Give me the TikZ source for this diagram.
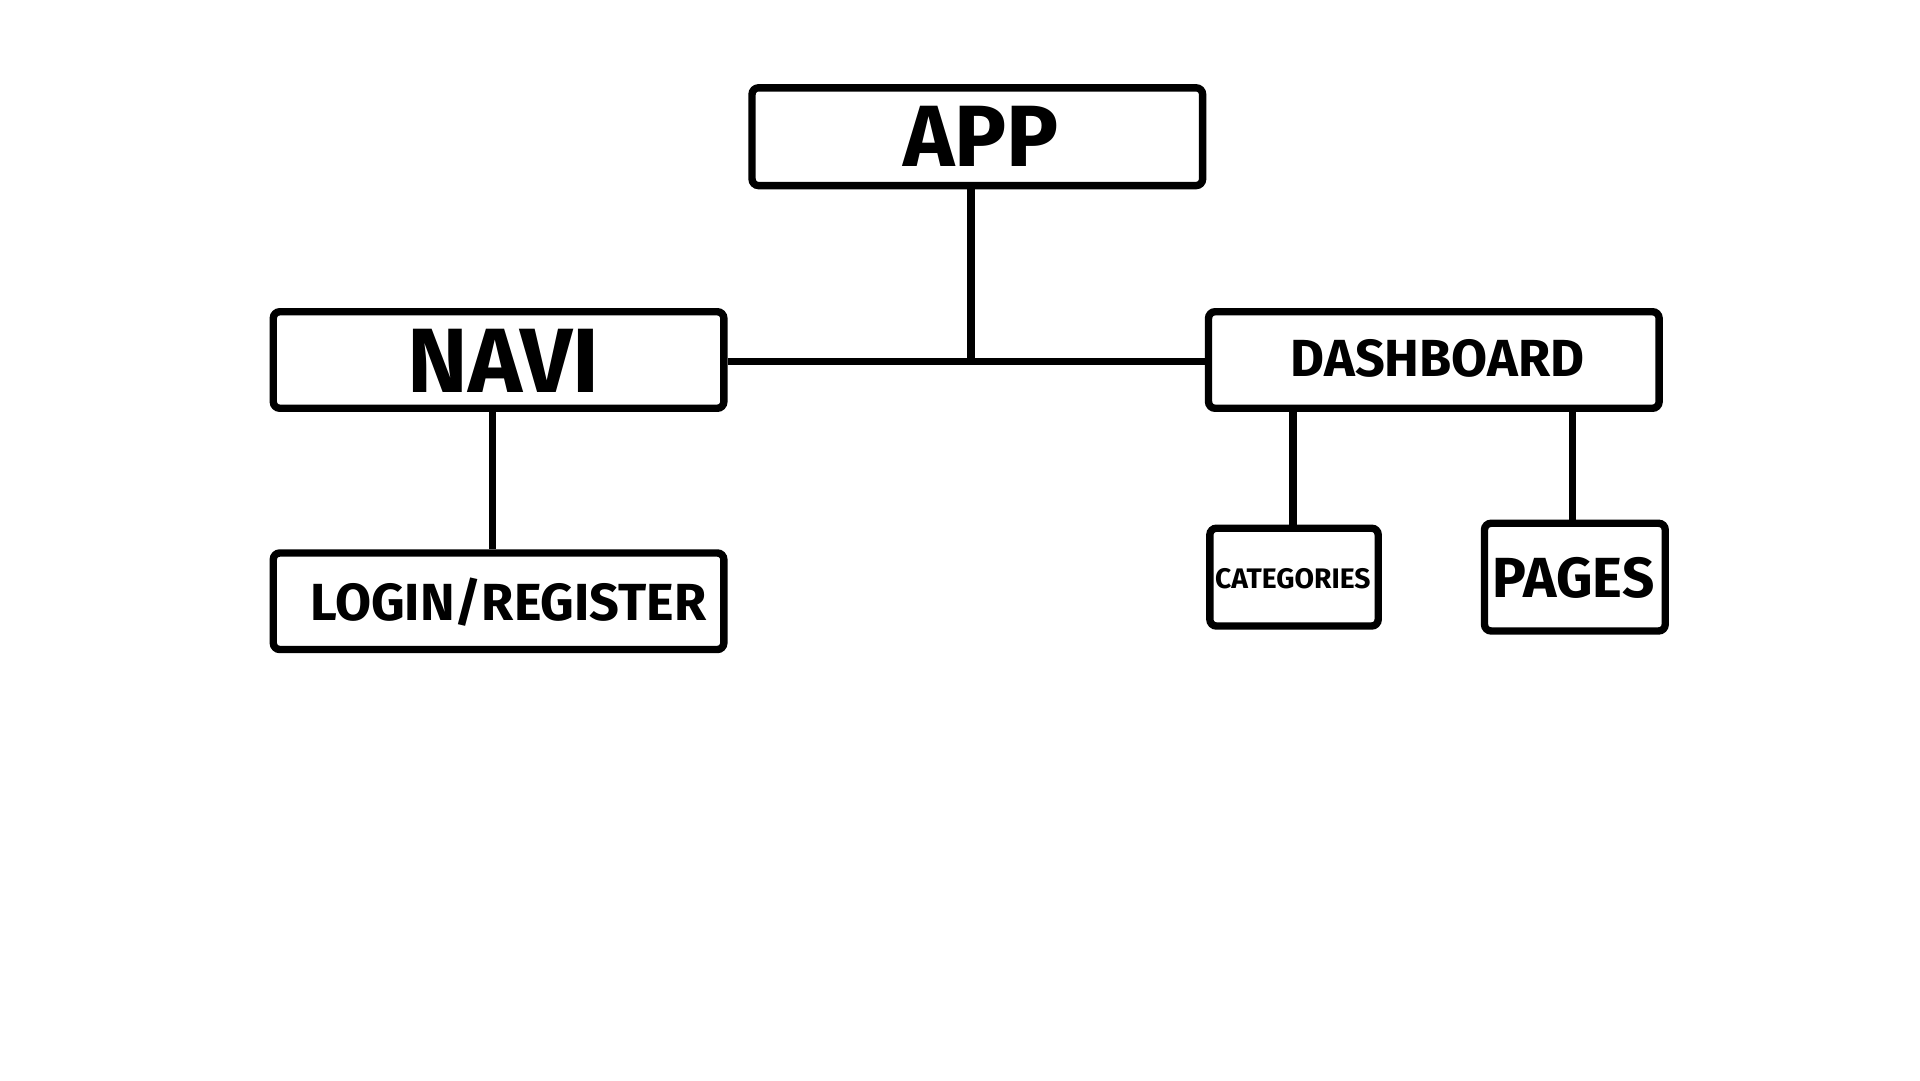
\documentclass[tikz,border=0pt]{standalone}
\usepackage{fontspec}
\setmainfont{Fira Sans}
\begin{document}
\begin{tikzpicture}[x=0.01cm,y=-0.01cm,
  box/.style={draw,line width=1.7pt,rounded corners=1.5pt,inner sep=0pt,font=\bfseries},
  link/.style={line width=1.7pt}]
\useasboundingbox (0,0) rectangle (1552,873);
\node[box,minimum width=3.64cm,minimum height=0.79cm] (app) at (790,110.5) {};
\node[font=\bfseries\fontsize{20}{24}\selectfont] at (793,110) {APP};
\node[box,minimum width=3.64cm,minimum height=0.78cm] (navi) at (403,291) {};
\node[font=\bfseries\fontsize{21}{24}\selectfont] at (407,292) {NAVI};
\node[box,minimum width=3.64cm,minimum height=0.78cm] (dash) at (1159,291) {};
\node[font=\bfseries\fontsize{12}{14}\selectfont] at (1162,290) {DASHBOARD};
\node[box,minimum width=3.64cm,minimum height=0.78cm] (login) at (403,486) {};
\node[font=\bfseries\fontsize{12}{14}\selectfont] at (411,487) {LOGIN/REGISTER};
\node[box,minimum width=1.36cm,minimum height=0.79cm] (cat) at (1046,466.5) {};
\node[font=\bfseries\fontsize{6.5}{8}\selectfont] at (1045,468) {CATEGORIES};
\node[box,minimum width=1.46cm,minimum height=0.87cm] (pages) at (1273,466.5) {};
\node[font=\bfseries\fontsize{13}{15}\selectfont] at (1272,467) {PAGES};
\coordinate (j) at (785,292);
\draw[link] (navi.east |- j) -- (dash.west |- j);
\draw[link] (app.south -| j) -- (j);
\draw[link] (navi.south -| 398,0) -- (login.north -| 398,0);
\draw[link] (dash.south -| 1045,0) -- (cat.north -| 1045,0);
\draw[link] (dash.south -| 1271,0) -- (pages.north -| 1271,0);
\end{tikzpicture}
\end{document}
